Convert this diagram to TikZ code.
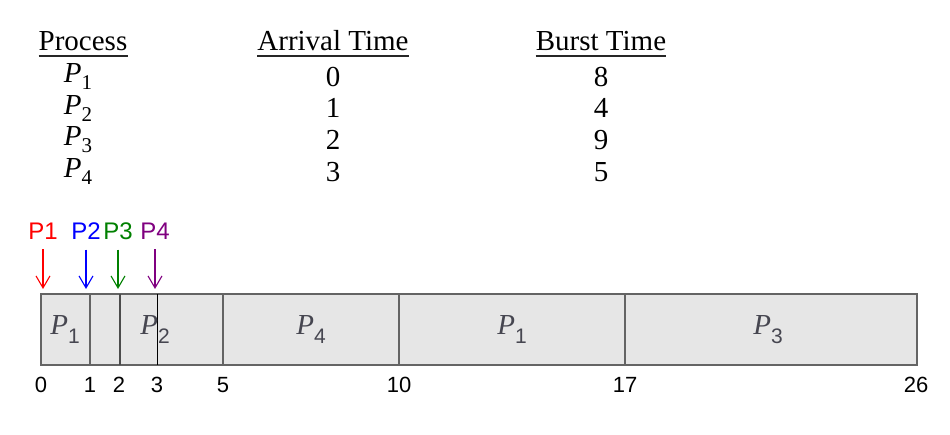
\documentclass[tikz,border=0pt]{standalone}
\usepackage{fontspec}
\setmainfont{Liberation Serif}
\newfontfamily\chartfont{Liberation Sans}
\usetikzlibrary{arrows.meta}

\definecolor{boxgray}{RGB}{230,230,230}
\definecolor{edgegray}{RGB}{100,100,100}
\definecolor{labgray}{RGB}{70,70,80}
\definecolor{arrpurple}{RGB}{128,0,128}
\definecolor{arrgreen}{RGB}{0,128,0}

\newcommand{\gproc}[1]{{\fontsize{29}{29}\selectfont\itshape P}\raisebox{-9pt}{\chartfont\fontsize{21}{21}\selectfont #1}}

\begin{document}
\begin{tikzpicture}[x=1pt,y=-1pt,
  tabtext/.style={inner sep=0pt, font=\fontsize{29}{29}\selectfont},
  ulstyle/.style={line width=2pt, black!85},
  segbox/.style={fill=boxgray, draw=edgegray, line width=1.6pt},
  tick/.style={inner sep=0pt, font=\chartfont\fontsize{22}{22}\selectfont},
  arrlab/.style={inner sep=0pt, font=\chartfont\fontsize{24}{24}\selectfont},
  arr/.style={-{Straight Barb[length=12pt,width=14pt]}, line width=1.1pt}]

\useasboundingbox (0,0) rectangle (950,435);

% table
\node[tabtext] (hdrproc) at (83,41) {Process};
\node[tabtext] (hdrarr) at (333,41) {Arrival Time};
\node[tabtext] (hdrburst) at (601,41) {Burst Time};
\foreach \n in {hdrproc,hdrarr,hdrburst} {\draw[ulstyle] ([yshift=-5pt]\n.south west) -- ([yshift=-5pt]\n.south east);}
\foreach \p/\a/\b [count=\i] in {1/0/8,2/1/4,3/2/9,4/3/5} {
  \node[tabtext] (proc\i) at (78,45+\i*31.7) {\itshape P\raisebox{-7pt}{\upshape\fontsize{21}{21}\selectfont\p}};
  \node[tabtext] (arr\i) at (333,45+\i*31.7) {\a};
  \node[tabtext] (burst\i) at (601,45+\i*31.7) {\b};
}

% gantt chart
\foreach \l/\r in {41/90,90/223,223/399,399/625,625/917} {\draw[segbox] (\l,294) rectangle (\r,365);}
\draw[line width=1.3pt, black!70] (120,294) -- (120,365);
\draw[line width=1pt, black] (157,294) -- (157,365);

\node[labgray] (g1) at (65,330) {\gproc{1}};
\node[labgray] (g2) at (155,330) {\gproc{2}};
\node[labgray] (g4) at (311,330) {\gproc{4}};
\node[labgray] (g5) at (512,330) {\gproc{1}};
\node[labgray] (g6) at (768,330) {\gproc{3}};

\foreach \t/\x [count=\i] in {0/41,1/90,2/119,3/157,5/223,10/399,17/625,26/916} {\node[tick] (t\i) at (\x,385) {\t};}

% arrivals
\foreach \n/\x/\c [count=\i] in {P1/43/red,P2/86/blue,P3/118/arrgreen,P4/155/arrpurple} {
  \node[arrlab, text=\c] (lab\i) at (\x,231) {\n};
  \coordinate (hit\i) at (\x,289);
  \draw[arr, \c] ([yshift=-10pt]lab\i.south) -- (hit\i);
}

\end{tikzpicture}
\end{document}
